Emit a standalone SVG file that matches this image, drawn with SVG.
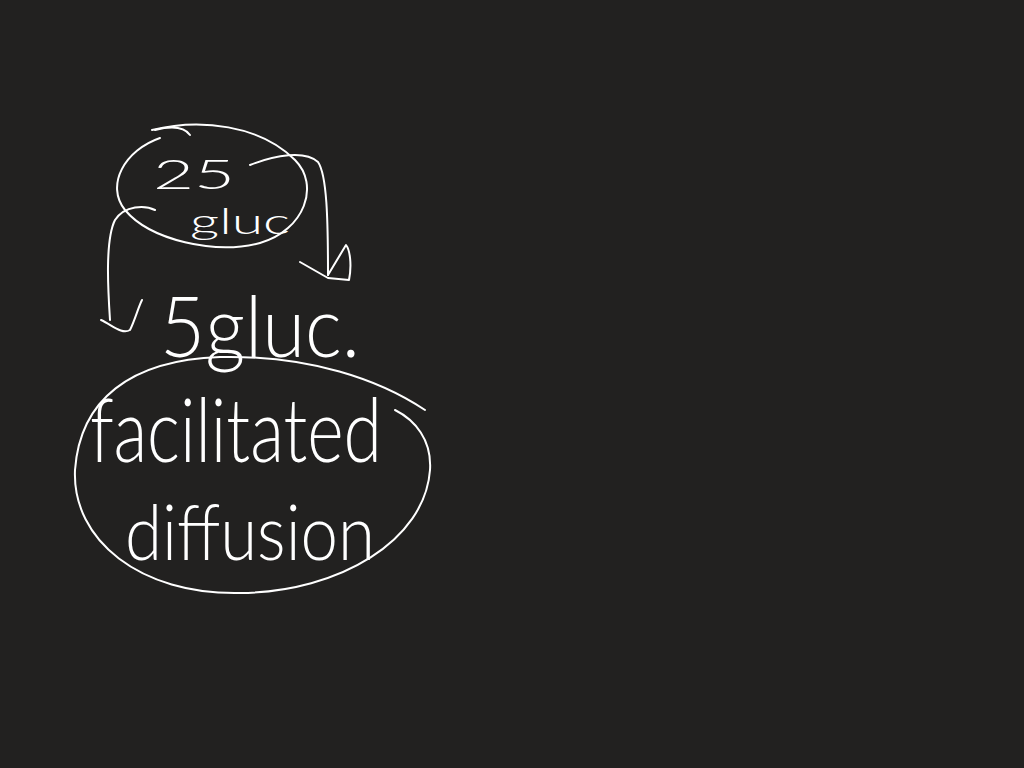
<svg xmlns="http://www.w3.org/2000/svg" width="1024" height="768" viewBox="0 0 1024 768">
<style>
.ln{fill:none;stroke:#ffffff;stroke-width:2;stroke-linecap:round;stroke-linejoin:round}
.tx{fill:#ffffff;font-family:Lato,"Liberation Sans","DejaVu Sans",sans-serif;font-weight:300}
</style>
<rect x="0" y="0" width="1024" height="768" fill="#222120"/>
<g id="node-25gluc">
<path class="ln" d="M152,130 C200,118 260,125 295,160 C320,185 305,230 260,243 C215,255 150,240 125,210 C105,185 125,150 160,138"/>
<path class="ln" d="M155,130 C175,125 185,128 190,135"/>
<text class="tx" x="153" y="189" font-size="42" textLength="82" lengthAdjust="spacingAndGlyphs">25</text>
<text class="tx" x="190" y="234" font-size="36" textLength="100" lengthAdjust="spacingAndGlyphs">gluc</text>
</g>
<g id="node-5gluc">
<text class="tx" x="160" y="357" font-size="84" textLength="200" lengthAdjust="spacingAndGlyphs">5gluc.</text>
</g>
<g id="node-facilitated-diffusion">
<path class="ln" d="M425,410 C380,380 310,355 220,357 C130,360 80,400 75,470 C72,540 140,595 240,593 C340,592 425,540 430,470 C432,440 415,420 395,410"/>
<text class="tx" x="90" y="462" font-size="88" textLength="292" lengthAdjust="spacingAndGlyphs">facilitated</text>
<text class="tx" x="125" y="560" font-size="76" textLength="250" lengthAdjust="spacingAndGlyphs">diffusion</text>
</g>
<g id="connectors">
<path class="ln" d="M250,165 C275,155 305,150 318,162 C327,175 328,220 328,275"/>
<path class="ln" d="M300,262 L328,278 L349,280 C352,265 350,250 346,245 L328,275"/>
<path class="ln" d="M155,210 C145,205 125,205 115,220 C105,240 108,290 110,320"/>
<path class="ln" d="M101,320 C112,325 122,335 130,330 C135,320 138,308 142,300"/>
</g>
</svg>
